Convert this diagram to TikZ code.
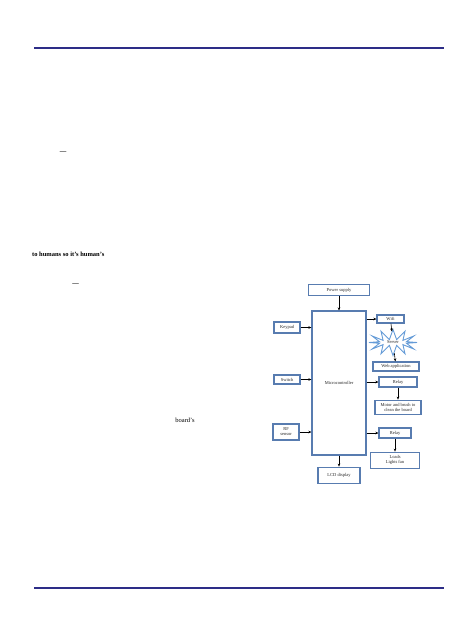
\documentclass[tikz,border=0pt]{standalone}
\usepackage{fontspec}
\setmainfont{Liberation Serif}
\usepackage{tikz}
\usetikzlibrary{shapes.symbols, arrows.meta, positioning}
\definecolor{boxblue}{RGB}{88,124,176}
\definecolor{burstblue}{RGB}{100,155,215}
\definecolor{rulenavy}{RGB}{45,45,135}

\begin{document}
\begin{tikzpicture}[x=1pt, y=-1pt,
    block/.style={rectangle, draw=boxblue, line width=1.2pt, fill=white, inner sep=0.5pt, font=\fontsize{4.5}{5}\selectfont, align=center, text=black!85},
    burst/.style={starburst, starburst points=12, starburst point height=10pt, random starburst=0, draw=burstblue, line width=0.9pt, fill=white, inner sep=0pt, font=\fontsize{4.5}{5}\selectfont, text=black!85},
    arrow/.style={-{Stealth[length=3pt, width=2.6pt]}, line width=0.6pt},
    pagerule/.style={draw=rulenavy, line width=1.6pt},
    stray/.style={font=\fontsize{6.5}{7}\selectfont, inner sep=0pt},
    straybold/.style={font=\fontsize{6.5}{7}\selectfont\bfseries, inner sep=0pt}
]

\useasboundingbox (0,0) rectangle (474,632);

\draw[pagerule] (34,48) -- (444,48);
\draw[pagerule] (34,588) -- (444,588);

\node[straybold] (dasha) at (63,153) {—};
\node[straybold, anchor=west] (humans) at (32,254) {to humans so it’s human’s};
\node[straybold] (dashb) at (75.5,285) {—};
\node[stray] (boards) at (185,420) {board’s};

\node[block, minimum width=54pt, minimum height=144pt] (mcu) at (339,383) {Microcontroller};
\node[block, minimum width=61pt, minimum height=11pt, above=14pt of mcu] (pwr) {Power supply};
\node[block, minimum width=42pt, minimum height=16pt, below=11pt of mcu] (lcd) {LCD display};

\node[block, minimum width=26pt, minimum height=11pt] (keypad) at (287,327.5) {Keypad};
\node[block, minimum width=26pt, minimum height=9pt] (switch) at (287,379.5) {Switch};
\node[block, minimum width=26pt, minimum height=16pt] (rf) at (286,432) {RF\\sensor};

\node[block, minimum width=27pt, minimum height=8pt] (wifi) at (390.5,319) {Wifi};
\node[burst, minimum width=48pt, minimum height=26pt] (server) at (393,342.5) {Server};
\node[block, minimum width=46pt, minimum height=9pt] (webapp) at (396,366.5) {Web application};

\node[block, minimum width=38pt, minimum height=10pt] (relaya) at (398,382) {Relay};
\node[block, minimum width=46pt, minimum height=14pt, below=12pt of relaya] (motor) {Motor and brush to\\clean the board};

\node[block, minimum width=32pt, minimum height=10pt] (relayb) at (395,433) {Relay};
\node[block, minimum width=49pt, minimum height=16pt, below=13pt of relayb] (loads) {Loads\\Lights fan};

\draw[arrow] (pwr) -- (mcu);
\draw[arrow] (mcu) -- (lcd);
\draw[arrow] (keypad) -- (keypad -| mcu.west);
\draw[arrow] (switch) -- (switch -| mcu.west);
\draw[arrow] (rf) -- (rf -| mcu.west);
\draw[arrow] (mcu.east |- wifi) -- (wifi);
\draw[arrow] (wifi) -- (server);
\draw[arrow] (server) -- (webapp);
\draw[arrow] (mcu.east |- relaya) -- (relaya);
\draw[arrow] (relaya) -- (motor);
\draw[arrow] (mcu.east |- relayb) -- (relayb);
\draw[arrow] (relayb) -- (loads);

\end{tikzpicture}
\end{document}
